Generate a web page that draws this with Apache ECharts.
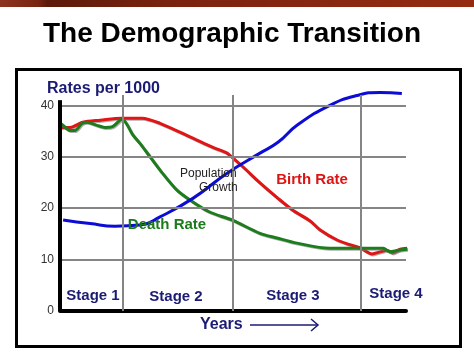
<!DOCTYPE html>
<html>
<head>
<meta charset="utf-8">
<script src="https://cdn.jsdelivr.net/npm/echarts@6/dist/echarts.min.js"></script>
<style>html,body{margin:0;padding:0;background:#fff}#c{width:474px;height:355px}</style>
</head>
<body>
<div id="c"></div>
<script>
// ---- data (x: relative time 0-100, y: rate per 1000) ----
const birthX = [-0.9, 2.9, 6.6, 11.6, 17.9, 23.7, 28.9, 38.4, 44.2, 48.3, 49.7, 52.9, 57.8, 63.0, 67.3, 72.3, 75.1, 80.1, 83.8, 87.0, 90.2, 92.5, 94.5, 96.2, 98.3, 100.3];
const birthY = [35.7, 35.7, 36.7, 37.1, 37.5, 37.5, 36.5, 33.6, 31.8, 30.7, 29.9, 28.0, 24.9, 21.9, 19.6, 17.5, 15.8, 13.8, 12.9, 12.2, 11.1, 11.5, 11.8, 11.3, 12.0, 12.2];
const deathX = [-0.9, 0.9, 2.9, 4.3, 6.4, 7.8, 10.7, 13.0, 15.3, 17.9, 21.1, 23.1, 26.0, 28.9, 33.8, 38.4, 43.4, 49.7, 57.8, 62.7, 68.5, 78.0, 87.0, 93.4, 95.4, 97.7, 100.3];
const deathY = [37.1, 36.1, 35.1, 35.1, 36.5, 36.7, 36.1, 35.7, 35.9, 37.3, 34.2, 32.6, 30.0, 27.4, 23.5, 21.2, 19.2, 17.7, 15.1, 14.2, 13.2, 12.2, 12.2, 12.2, 11.5, 11.8, 12.0];
const popX = [0.9, 8.7, 15.9, 23.1, 28.9, 38.4, 48.3, 57.8, 63.0, 68.5, 78.0, 85.8, 92.5, 98.8];
const popY = [17.7, 17.0, 16.5, 16.7, 18.3, 21.9, 26.8, 30.7, 32.8, 36.1, 40.0, 41.9, 42.5, 42.3];
const stageBounds = [18, 50, 87];
const yTicks = [10, 20, 30, 40];
const stageNames = ['Stage 1', 'Stage 2', 'Stage 3', 'Stage 4'];
const axisTop = 41;   // top of the drawn y axis line
const gridTop = 42;   // top of the stage divider lines

const zip = (xs, ys) => xs.map((x, i) => [x, ys[i]]);
const NAVY = '#1b1b74';
const FONT = '"Liberation Sans", Arial, sans-serif';
const GRIDC = '#858585';

const chart = echarts.init(document.getElementById('c'), null, {renderer: 'canvas'});

const option = {
  backgroundColor: '#fff',
  animation: false,
  grid: {left: 60, right: 68, top: 95, bottom: 44, containLabel: false},
  xAxis: {
    type: 'value', min: 0, max: 100,
    axisLine: {show: true, onZero: false, lineStyle: {color: '#000', width: 4}},
    axisTick: {show: false}, axisLabel: {show: false}, splitLine: {show: false}
  },
  yAxis: {
    type: 'value', min: 0, max: gridTop, interval: 10,
    axisLine: {show: false},
    axisTick: {show: false}, splitLine: {show: false},
    axisLabel: {
      color: '#333', fontFamily: FONT, fontSize: 12, margin: 6,
      formatter: v => (v % 10 === 0 ? String(v) : '')
    }
  },
  series: [
    {
      type: 'line', name: 'grid', data: [], silent: true, clip: false, z: 1,
      markLine: {
        silent: true, symbol: 'none', label: {show: false},
        lineStyle: {color: GRIDC, width: 2, type: 'solid'},
        data: yTicks.map(v => ({yAxis: v})).concat(
          stageBounds.map(b => [{coord: [b, 0]}, {coord: [b, gridTop]}])
        )
      }
    },
    {
      type: 'line', name: 'axis', data: [], silent: true, clip: false, z: 5,
      markLine: {
        silent: true, symbol: 'none', label: {show: false},
        lineStyle: {color: '#000', width: 4, type: 'solid'},
        data: [[{coord: [0, 0]}, {coord: [0, axisTop]}]]
      }
    },
    {
      type: 'line', name: 'Birth Rate', data: zip(birthX, birthY), clip: false,
      showSymbol: false, smooth: 0.3,
      lineStyle: {color: '#e11515', width: 3, shadowColor: 'rgba(120,120,120,0.6)', shadowOffsetX: 1, shadowOffsetY: 1}
    },
    {
      type: 'line', name: 'Death Rate', data: zip(deathX, deathY), clip: false,
      showSymbol: false, smooth: 0.3,
      lineStyle: {color: '#1d7d1d', width: 3, shadowColor: 'rgba(120,120,120,0.6)', shadowOffsetX: 1, shadowOffsetY: 1}
    },
    {
      type: 'line', name: 'Population Growth', data: zip(popX, popY), clip: false,
      showSymbol: false, smooth: true,
      lineStyle: {color: '#0c0cd4', width: 3}
    }
  ],
  graphic: [
    {type: 'rect', shape: {x: 0, y: 0, width: 474, height: 7}, z: 10,
     style: {fill: new echarts.graphic.LinearGradient(0, 0, 1, 0, [
       {offset: 0, color: '#8e3320'}, {offset: 0.08, color: '#7a2413'}, {offset: 0.1, color: '#5c190b'},
       {offset: 0.35, color: '#7a2210'}, {offset: 1, color: '#952c12'}])}},
    {type: 'rect', shape: {x: 16.5, y: 69.5, width: 444, height: 277}, z: 0,
     style: {fill: 'none', stroke: '#000', lineWidth: 3}},
    {type: 'text', x: 232, y: 34, z: 10,
     style: {text: 'The Demographic Transition', fontFamily: FONT, fontWeight: 'bold', fontSize: 28,
             fill: '#000', textAlign: 'center', textVerticalAlign: 'middle'}},
    {type: 'text', x: 47, y: 89, z: 10,
     style: {text: 'Rates per 1000', fontFamily: FONT, fontWeight: 'bold', fontSize: 16,
             fill: NAVY, textAlign: 'left', textVerticalAlign: 'middle'}},
    {type: 'text', x: 312, y: 180, z: 10,
     style: {text: 'Birth Rate', fontFamily: FONT, fontWeight: 'bold', fontSize: 15,
             fill: '#dd1414', textAlign: 'center', textVerticalAlign: 'middle'}},
    {type: 'text', x: 167, y: 225, z: 10,
     style: {text: 'Death Rate', fontFamily: FONT, fontWeight: 'bold', fontSize: 15,
             fill: '#1b7b1b', textAlign: 'center', textVerticalAlign: 'middle'}},
    {type: 'text', x: 180, y: 174, z: 10,
     style: {text: 'Population', fontFamily: FONT, fontSize: 12,
             fill: '#222', textAlign: 'left', textVerticalAlign: 'middle'}},
    {type: 'text', x: 199, y: 188, z: 10,
     style: {text: 'Growth', fontFamily: FONT, fontSize: 12,
             fill: '#222', textAlign: 'left', textVerticalAlign: 'middle'}},
    {type: 'text', x: 93, y: 296, z: 10,
     style: {text: stageNames[0], fontFamily: FONT, fontWeight: 'bold', fontSize: 15, fill: NAVY, textAlign: 'center', textVerticalAlign: 'middle'}},
    {type: 'text', x: 176, y: 297, z: 10,
     style: {text: stageNames[1], fontFamily: FONT, fontWeight: 'bold', fontSize: 15, fill: NAVY, textAlign: 'center', textVerticalAlign: 'middle'}},
    {type: 'text', x: 293, y: 296, z: 10,
     style: {text: stageNames[2], fontFamily: FONT, fontWeight: 'bold', fontSize: 15, fill: NAVY, textAlign: 'center', textVerticalAlign: 'middle'}},
    {type: 'text', x: 396, y: 294, z: 10,
     style: {text: stageNames[3], fontFamily: FONT, fontWeight: 'bold', fontSize: 15, fill: NAVY, textAlign: 'center', textVerticalAlign: 'middle'}},
    {type: 'text', x: 200, y: 325, z: 10,
     style: {text: 'Years', fontFamily: FONT, fontWeight: 'bold', fontSize: 16, fill: NAVY, textAlign: 'left', textVerticalAlign: 'middle'}},
    {type: 'line', shape: {x1: 250, y1: 325, x2: 317, y2: 325}, z: 10, style: {stroke: NAVY, lineWidth: 1.5}},
    {type: 'polyline', shape: {points: [[311, 319], [318, 325], [311, 331]]}, z: 10, style: {stroke: NAVY, lineWidth: 1.5, fill: 'none'}}
  ]
};
chart.setOption(option);
</script>
</body>
</html>
